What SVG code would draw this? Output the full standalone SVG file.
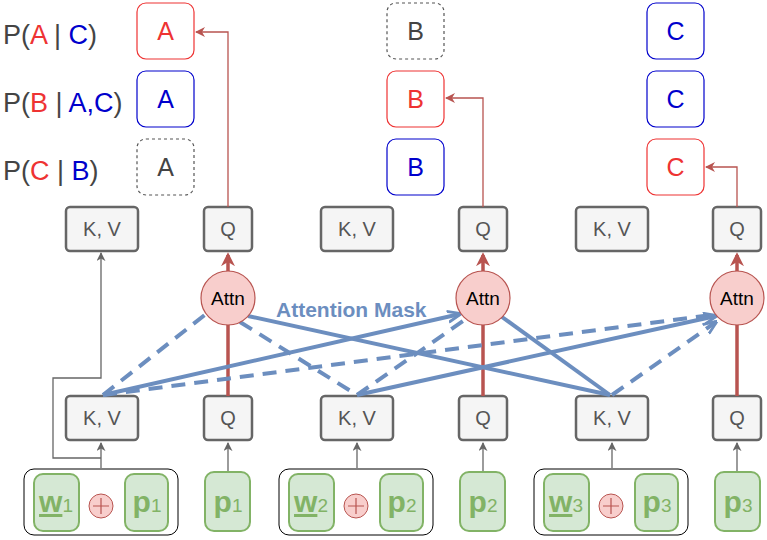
<svg xmlns="http://www.w3.org/2000/svg" width="767" height="540" viewBox="0 0 767 540">
<defs>
<marker id="ag" viewBox="0 0 10 10" refX="9" refY="5" markerWidth="9" markerHeight="9" markerUnits="userSpaceOnUse" orient="auto"><path d="M0,0 L10,5 L0,10 L3,5 Z" fill="#666"/></marker>
<marker id="ar" viewBox="0 0 10 10" refX="9" refY="5" markerWidth="10" markerHeight="10" markerUnits="userSpaceOnUse" orient="auto"><path d="M0,0 L10,5 L0,10 L3,5 Z" fill="#b85450"/></marker>
<marker id="arb" viewBox="0 0 10 10" refX="8" refY="5" markerWidth="14" markerHeight="14" markerUnits="userSpaceOnUse" orient="auto"><path d="M0,0 L10,5 L0,10 L3,5 Z" fill="#b85450"/></marker>
<marker id="ab" viewBox="0 0 10 10" refX="9" refY="5" markerWidth="14" markerHeight="14" markerUnits="userSpaceOnUse" orient="auto"><path d="M0,1 L10,5 L0,9" fill="none" stroke="#6c8ebf" stroke-width="2"/></marker>
</defs>
<style>
text{font-family:"Liberation Sans",Arial,sans-serif;text-anchor:middle}
.box{fill:#f5f5f5;stroke:#666;stroke-width:2.5}
.bt{font-size:20px;fill:#555}
.out{fill:#fff;stroke-width:1.2}
.ot{font-size:25px}
.grp{fill:#fff;stroke:#000;stroke-width:1}
.g{fill:#d5e8d4;stroke:#82b366;stroke-width:2}
.gt{font-size:30px;font-weight:bold;fill:#82b366}
.s{font-size:19px;font-weight:normal}
.attn{fill:#f8cecc;stroke:#b85450;stroke-width:1.2}
.m{stroke:#6c8ebf;stroke-width:4;fill:none}
.d{stroke-dasharray:14,9}
.lab{font-size:27px;fill:#444;text-anchor:start}
</style>
<g id="labels">
<text class="lab" x="3" y="44">P(<tspan fill="#e33">A</tspan> | <tspan fill="#00c">C</tspan>)</text>
<text class="lab" x="3" y="112">P(<tspan fill="#e33">B</tspan> | <tspan fill="#00c">A,C</tspan>)</text>
<text class="lab" x="3" y="180">P(<tspan fill="#e33">C</tspan> | <tspan fill="#00c">B</tspan>)</text>
</g>
<g id="outputs">
<rect class="out" x="137" y="3" width="57" height="56" rx="9" stroke="#e33"/><text class="ot" x="165.5" y="40" fill="#e33">A</text>
<rect class="out" x="137" y="71" width="57" height="56" rx="9" stroke="#00c"/><text class="ot" x="165.5" y="108" fill="#00c">A</text>
<rect class="out" x="137" y="139" width="57" height="56" rx="9" stroke="#555" stroke-dasharray="3,3"/><text class="ot" x="165.5" y="176" fill="#444">A</text>
<rect class="out" x="387" y="3" width="57" height="56" rx="9" stroke="#555" stroke-dasharray="3,3"/><text class="ot" x="415.5" y="40" fill="#444">B</text>
<rect class="out" x="387" y="71" width="57" height="56" rx="9" stroke="#e33"/><text class="ot" x="415.5" y="108" fill="#e33">B</text>
<rect class="out" x="387" y="139" width="57" height="56" rx="9" stroke="#00c"/><text class="ot" x="415.5" y="176" fill="#00c">B</text>
<rect class="out" x="647" y="3" width="57" height="56" rx="9" stroke="#00c"/><text class="ot" x="675.5" y="40" fill="#00c">C</text>
<rect class="out" x="647" y="71" width="57" height="56" rx="9" stroke="#00c"/><text class="ot" x="675.5" y="108" fill="#00c">C</text>
<rect class="out" x="647" y="139" width="57" height="56" rx="9" stroke="#e33"/><text class="ot" x="675.5" y="176" fill="#e33">C</text>
</g>
<g id="top-row">
<rect class="box" x="66" y="207" width="72" height="44" rx="4"/><text class="bt" x="102" y="236">K, V</text>
<rect class="box" x="204" y="207" width="48" height="44" rx="4"/><text class="bt" x="228" y="236">Q</text>
<rect class="box" x="321" y="207" width="72" height="44" rx="4"/><text class="bt" x="357" y="236">K, V</text>
<rect class="box" x="459" y="207" width="48" height="44" rx="4"/><text class="bt" x="483" y="236">Q</text>
<rect class="box" x="576" y="207" width="72" height="44" rx="4"/><text class="bt" x="612" y="236">K, V</text>
<rect class="box" x="713" y="207" width="48" height="44" rx="4"/><text class="bt" x="737" y="236">Q</text>
</g>
<g id="bottom-row">
<rect class="box" x="66" y="396" width="72" height="44" rx="4"/><text class="bt" x="102" y="425">K, V</text>
<rect class="box" x="204" y="396" width="48" height="44" rx="4"/><text class="bt" x="228" y="425">Q</text>
<rect class="box" x="321" y="396" width="72" height="44" rx="4"/><text class="bt" x="357" y="425">K, V</text>
<rect class="box" x="459" y="396" width="48" height="44" rx="4"/><text class="bt" x="483" y="425">Q</text>
<rect class="box" x="576" y="396" width="72" height="44" rx="4"/><text class="bt" x="612" y="425">K, V</text>
<rect class="box" x="713" y="396" width="48" height="44" rx="4"/><text class="bt" x="737" y="425">Q</text>
</g>
<g id="connectors">
<path d="M228,207 V32 H196" fill="none" stroke="#b85450" stroke-width="1.3" marker-end="url(#ar)"/>
<path d="M483,207 V98 H446" fill="none" stroke="#b85450" stroke-width="1.3" marker-end="url(#ar)"/>
<path d="M737,207 V167 H706" fill="none" stroke="#b85450" stroke-width="1.3" marker-end="url(#ar)"/>
<path d="M228,396 V255" stroke="#b85450" stroke-width="3.5" marker-end="url(#arb)"/>
<path d="M483,396 V255" stroke="#b85450" stroke-width="3.5" marker-end="url(#arb)"/>
<path d="M737,396 V255" stroke="#b85450" stroke-width="3.5" marker-end="url(#arb)"/>
<path d="M101,468 V443" stroke="#666" stroke-width="1.3" marker-end="url(#ag)"/>
<path d="M101,458 H53 V378 H101 V253" fill="none" stroke="#666" stroke-width="1.3" marker-end="url(#ag)"/>
<path d="M357,468 V443" stroke="#666" stroke-width="1.3" marker-end="url(#ag)"/>
<path d="M612,468 V443" stroke="#666" stroke-width="1.3" marker-end="url(#ag)"/>
<path d="M228,472 V443" stroke="#666" stroke-width="1.3" marker-end="url(#ag)"/>
<path d="M483,472 V443" stroke="#666" stroke-width="1.3" marker-end="url(#ag)"/>
<path d="M737,472 V443" stroke="#666" stroke-width="1.3" marker-end="url(#ag)"/>
<line class="m d" x1="103" y1="395" x2="206" y2="314"/>
<line class="m" x1="248" y1="316" x2="610" y2="395"/>
<line class="m d" x1="240" y1="322" x2="357" y2="395"/>
<line class="m" x1="103" y1="395" x2="460" y2="314" marker-end="url(#ab)"/>
<line class="m d" x1="357" y1="395" x2="466" y2="319"/>
<line class="m" x1="502" y1="317" x2="610" y2="395"/>
<line class="m d" x1="103" y1="395" x2="711" y2="315"/>
<line class="m" x1="357" y1="395" x2="716" y2="316" marker-end="url(#ab)"/>
<line class="m d" x1="612" y1="395" x2="716" y2="322" marker-end="url(#ab)"/>
</g>
<g id="attn">
<circle class="attn" cx="228" cy="298" r="27"/><text x="228" y="305" font-size="19">Attn</text>
<circle class="attn" cx="483" cy="298" r="27"/><text x="483" y="305" font-size="19">Attn</text>
<circle class="attn" cx="737" cy="298" r="27"/><text x="737" y="305" font-size="19">Attn</text>
</g>
<text x="276" y="317" font-size="21" font-weight="bold" fill="#6c8ebf" style="text-anchor:start">Attention Mask</text>
<g id="inputs">
<rect class="grp" x="24" y="469" width="154" height="66" rx="10"/>
<rect class="g" x="34" y="474" width="45" height="57" rx="9"/><text class="gt" x="56" y="512"><tspan text-decoration="underline">w</tspan><tspan class="s">1</tspan></text>
<circle cx="101" cy="506" r="12" fill="#f8cecc" stroke="#b85450"/><path d="M93,506 H109 M101,498 V514" stroke="#b85450" stroke-width="1.2"/>
<rect class="g" x="125" y="474" width="43" height="57" rx="9"/><text class="gt" x="147" y="512">p<tspan class="s">1</tspan></text>
<rect class="g" x="205" y="472" width="45" height="59" rx="9"/><text class="gt" x="228" y="512">p<tspan class="s">1</tspan></text>
<rect class="grp" x="279" y="469" width="154" height="66" rx="10"/>
<rect class="g" x="289" y="474" width="45" height="57" rx="9"/><text class="gt" x="311" y="512"><tspan text-decoration="underline">w</tspan><tspan class="s">2</tspan></text>
<circle cx="356" cy="506" r="12" fill="#f8cecc" stroke="#b85450"/><path d="M348,506 H364 M356,498 V514" stroke="#b85450" stroke-width="1.2"/>
<rect class="g" x="380" y="474" width="43" height="57" rx="9"/><text class="gt" x="402" y="512">p<tspan class="s">2</tspan></text>
<rect class="g" x="460" y="472" width="45" height="59" rx="9"/><text class="gt" x="483" y="512">p<tspan class="s">2</tspan></text>
<rect class="grp" x="534" y="469" width="154" height="66" rx="10"/>
<rect class="g" x="544" y="474" width="45" height="57" rx="9"/><text class="gt" x="566" y="512"><tspan text-decoration="underline">w</tspan><tspan class="s">3</tspan></text>
<circle cx="611" cy="506" r="12" fill="#f8cecc" stroke="#b85450"/><path d="M603,506 H619 M611,498 V514" stroke="#b85450" stroke-width="1.2"/>
<rect class="g" x="635" y="474" width="43" height="57" rx="9"/><text class="gt" x="657" y="512">p<tspan class="s">3</tspan></text>
<rect class="g" x="715" y="472" width="45" height="59" rx="9"/><text class="gt" x="738" y="512">p<tspan class="s">3</tspan></text>
</g>
</svg>
